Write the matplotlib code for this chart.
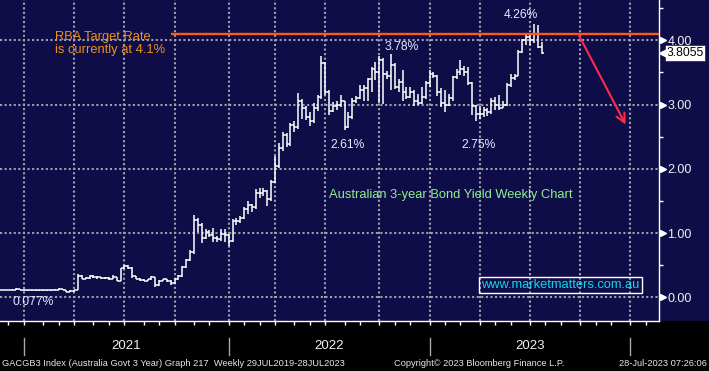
"""
Australian 3-year bond yield, weekly OHLC bars (Bloomberg-style dark chart).
"""

import matplotlib
matplotlib.use("Agg")
import matplotlib.pyplot as plt
import matplotlib.transforms as mtransforms
from matplotlib.patches import Rectangle
import numpy as np
import pandas as pd

plt.rcParams["font.family"] = ["Liberation Sans", "DejaVu Sans"]

# ---- data: weekly bars (Fridays) from 20 Nov 2020 to 28 Jul 2023 ----
FIRST_BAR = "2020-11-20"
AXIS_WEEKS = 171          # bars shown on the axis, incl. empty space to the right

OPEN = [
    0.12, 0.12, 0.12, 0.11, 0.12, 0.13, 0.11, 0.11, 0.11, 0.11,
    0.11, 0.11, 0.11, 0.11, 0.11, 0.12, 0.13, 0.12, 0.09, 0.10,
    0.11, 0.33, 0.29, 0.30, 0.33, 0.31, 0.31, 0.30, 0.30, 0.29,
    0.32, 0.26, 0.45, 0.49, 0.45, 0.33, 0.29, 0.27, 0.26, 0.28,
    0.31, 0.19, 0.26, 0.28, 0.26, 0.22, 0.28, 0.33, 0.47, 0.58,
    0.70, 1.21, 1.13, 0.92, 1.02, 0.97, 0.93, 0.90, 0.99, 0.97,
    0.87, 1.18, 1.19, 1.24, 1.38, 1.43, 1.40, 1.62, 1.63, 1.66,
    1.53, 1.79, 2.05, 2.32, 2.52, 2.38, 2.68, 2.65, 3.06, 2.95,
    2.80, 2.75, 2.95, 3.12, 3.64, 3.20, 2.90, 2.98, 3.00, 3.05,
    2.65, 2.80, 3.06, 3.10, 3.22, 3.25, 3.40, 3.56, 3.50, 3.70,
    3.47, 3.45, 3.62, 3.27, 3.35, 3.20, 3.12, 3.20, 3.06, 3.03,
    3.12, 3.33, 3.47, 3.45, 3.20, 3.02, 3.00, 3.10, 3.43, 3.50,
    3.55, 3.50, 3.33, 2.98, 2.85, 2.86, 2.92, 2.88, 3.05, 3.00,
    2.95, 3.00, 3.30, 3.42, 3.45, 3.82, 4.00, 4.05, 4.00, 4.10,
    3.89,
]
HIGH = [
    0.12, 0.12, 0.12, 0.13, 0.14, 0.13, 0.11, 0.11, 0.11, 0.11,
    0.11, 0.11, 0.11, 0.11, 0.13, 0.14, 0.13, 0.12, 0.11, 0.11,
    0.36, 0.34, 0.31, 0.35, 0.34, 0.33, 0.32, 0.32, 0.31, 0.34,
    0.32, 0.46, 0.51, 0.50, 0.47, 0.33, 0.30, 0.28, 0.29, 0.33,
    0.31, 0.27, 0.29, 0.28, 0.27, 0.30, 0.34, 0.49, 0.60, 0.74,
    1.28, 1.23, 1.15, 1.06, 1.04, 1.08, 0.96, 1.06, 1.06, 0.98,
    1.22, 1.23, 1.27, 1.41, 1.50, 1.45, 1.68, 1.70, 1.70, 1.67,
    1.82, 2.20, 2.40, 2.58, 2.55, 2.72, 2.74, 3.18, 3.08, 2.98,
    2.88, 3.02, 3.15, 3.75, 3.66, 3.22, 3.04, 3.06, 3.15, 3.06,
    2.88, 3.10, 3.14, 3.30, 3.30, 3.42, 3.58, 3.66, 3.76, 3.72,
    3.52, 3.78, 3.64, 3.40, 3.53, 3.27, 3.28, 3.22, 3.17, 3.27,
    3.36, 3.53, 3.50, 3.46, 3.25, 3.22, 3.17, 3.45, 3.56, 3.69,
    3.60, 3.58, 3.35, 2.99, 2.98, 2.96, 2.95, 3.10, 3.12, 3.15,
    3.06, 3.34, 3.48, 3.47, 3.85, 4.02, 4.08, 4.08, 4.26, 4.24,
    3.98,
]
LOW = [
    0.11, 0.11, 0.11, 0.11, 0.11, 0.11, 0.10, 0.10, 0.10, 0.10,
    0.10, 0.10, 0.10, 0.10, 0.11, 0.12, 0.11, 0.08, 0.077, 0.09,
    0.11, 0.28, 0.28, 0.29, 0.30, 0.29, 0.29, 0.28, 0.27, 0.28,
    0.25, 0.25, 0.44, 0.44, 0.30, 0.28, 0.26, 0.25, 0.25, 0.27,
    0.16, 0.18, 0.25, 0.24, 0.19, 0.21, 0.27, 0.32, 0.46, 0.57,
    0.68, 1.02, 0.84, 0.90, 0.94, 0.86, 0.86, 0.88, 0.86, 0.80,
    0.86, 1.12, 1.15, 1.22, 1.30, 1.33, 1.38, 1.55, 1.58, 1.42,
    1.50, 1.78, 2.02, 2.28, 2.34, 2.35, 2.58, 2.62, 2.78, 2.76,
    2.67, 2.72, 2.90, 3.08, 3.15, 2.83, 2.88, 2.92, 2.96, 2.61,
    2.63, 2.78, 3.02, 3.08, 3.06, 3.05, 3.19, 3.38, 3.02, 3.01,
    3.40, 3.22, 3.24, 3.19, 3.06, 3.08, 3.10, 2.97, 3.00, 3.01,
    3.08, 3.27, 3.42, 3.14, 2.96, 2.88, 2.98, 3.06, 3.40, 3.46,
    3.45, 3.30, 2.83, 2.75, 2.77, 2.80, 2.82, 2.85, 2.92, 2.92,
    2.94, 2.98, 3.28, 3.38, 3.44, 3.80, 3.93, 3.92, 3.95, 3.88,
    3.79,
]
CLOSE = [
    0.12, 0.12, 0.11, 0.12, 0.13, 0.11, 0.11, 0.11, 0.11, 0.11,
    0.11, 0.11, 0.11, 0.11, 0.12, 0.13, 0.12, 0.09, 0.10, 0.11,
    0.33, 0.29, 0.30, 0.33, 0.31, 0.31, 0.30, 0.30, 0.29, 0.32,
    0.26, 0.45, 0.49, 0.45, 0.33, 0.29, 0.27, 0.26, 0.28, 0.31,
    0.19, 0.26, 0.28, 0.26, 0.22, 0.28, 0.33, 0.47, 0.58, 0.70,
    1.21, 1.13, 0.92, 1.02, 0.97, 0.93, 0.90, 0.99, 0.97, 0.87,
    1.18, 1.19, 1.24, 1.38, 1.43, 1.40, 1.62, 1.63, 1.66, 1.53,
    1.79, 2.05, 2.32, 2.52, 2.38, 2.68, 2.65, 3.06, 2.95, 2.80,
    2.75, 2.95, 3.12, 3.64, 3.20, 2.90, 2.98, 3.00, 3.05, 2.65,
    2.80, 3.06, 3.10, 3.22, 3.25, 3.40, 3.56, 3.50, 3.70, 3.47,
    3.45, 3.62, 3.27, 3.35, 3.20, 3.12, 3.20, 3.06, 3.03, 3.12,
    3.33, 3.47, 3.45, 3.20, 3.02, 3.00, 3.10, 3.43, 3.50, 3.55,
    3.50, 3.33, 2.98, 2.85, 2.86, 2.92, 2.88, 3.05, 3.00, 2.95,
    3.00, 3.30, 3.42, 3.45, 3.82, 4.00, 4.05, 4.00, 4.10, 3.89,
    3.8055,
]

RBA_RATE = 4.1
Y_TICKS = [0.0, 1.0, 2.0, 3.0, 4.0]
YEAR_LABELS = ["2021", "2022", "2023"]

# callouts: (text, bar index, yield level)
CALLOUTS = [
    ("4.26%", 134.5, 4.39),
    ("3.78%", 103.7, 3.90),
    ("2.61%", 89.8, 2.37),
    ("2.75%", 123.6, 2.37),
    ("0.077%", 8.5, -0.07),
]

NAVY = "#0e0d48"
GRID = "#a0a0aa"

dates = pd.date_range(FIRST_BAR, periods=AXIS_WEEKS, freq="W-FRI")
idx = np.arange(len(CLOSE))
o, h, l, c = (np.array(a) for a in (OPEN, HIGH, LOW, CLOSE))

# month / quarter / year boundaries in bar units (Bloomberg spaces bars evenly)
months = dates.month.values
new_month = np.r_[False, months[1:] != months[:-1]]
month_pos = np.where(new_month)[0]
quarter_pos = [p for p in month_pos if months[p] in (1, 4, 7, 10)]
year_pos = [p for p in month_pos if months[p] == 1]

W, H = 709, 371
fig = plt.figure(figsize=(W / 100, H / 100), dpi=100, facecolor=NAVY)
fig.patches.append(Rectangle((0, 0), 1, 50 / H, transform=fig.transFigure,
                             color="black", zorder=-1))
ax = fig.add_axes([0, 50 / H, 659 / W, 321 / H])
ax.set_facecolor(NAVY)

# OHLC bars
ax.vlines(idx, l, h, color="white", lw=1.1, zorder=3)
ax.hlines(o, idx - 0.5, idx, color="white", lw=1.1, zorder=3)
ax.hlines(c, idx, idx + 0.5, color="white", lw=1.1, zorder=3)

ax.set_xlim(-0.2, 170.4)
ax.set_ylim(-0.369, 4.627)

for s in ("left", "top"):
    ax.spines[s].set_visible(False)
for s in ("right", "bottom"):
    ax.spines[s].set_color("white")
    ax.spines[s].set_linewidth(1.0)

# y axis on the right
ax.yaxis.tick_right()
ax.set_yticks(Y_TICKS)
ax.set_yticklabels([f"{v:.2f}" for v in Y_TICKS])
ax.set_yticks(np.arange(0.5, 4.6, 1.0), minor=True)
ax.tick_params(axis="y", which="major", length=0, pad=6, labelsize=9,
               labelcolor="#f2f2f2")
ax.tick_params(axis="y", which="minor", length=3, width=1, color="white",
               direction="out")
ytrans = mtransforms.blended_transform_factory(ax.transAxes, ax.transData)
ax.plot([1.0 + 4 / 659] * len(Y_TICKS), Y_TICKS, ls="none", marker=">",
        ms=4.5, color="white", transform=ytrans, clip_on=False, zorder=5)

# x axis: quarterly grid, monthly ticks, year separators
ax.set_xticks(quarter_pos)
ax.set_xticks(month_pos, minor=True)
ax.tick_params(axis="x", which="both", length=3, width=1, color="white",
               direction="out", labelbottom=False)
ax.grid(True, which="major", color=GRID, ls=(0, (1, 1.2)), lw=1.5)
ax.set_axisbelow(True)

xtrans = mtransforms.blended_transform_factory(ax.transData, ax.transAxes)
for p in year_pos:
    ax.plot([p, p], [-17 / 321, -34 / 321], color="#a8a8a8", lw=1,
            transform=xtrans, clip_on=False)
for lab, a, b in zip(YEAR_LABELS, year_pos[:-1], year_pos[1:]):
    ax.text((a + b) / 2, -25 / 321, lab, transform=xtrans, ha="center",
            va="center", fontsize=9.5, color="#f2f2f2")

# RBA rate line and arrow
ax.hlines(RBA_RATE, 44, 170.4, color="#ff5a10", lw=1.7, zorder=4)
ax.text(14, 4.15, "RBA Target Rate\nis currently at 4.1%", ha="left", va="top",
        fontsize=9.3, color="#f0901c", linespacing=1.15)
ax.annotate("", xy=(162.1, 2.65), xytext=(149.2, 4.13),
            arrowprops=dict(arrowstyle="->", color="#ff2a48", lw=1.5,
                            mutation_scale=16), zorder=4)

for txt, x, y in CALLOUTS:
    ax.text(x, y, txt, ha="center", va="center", fontsize=8.7, color="#e8e8ff")

ax.text(85.1, 1.59, "Australian 3-year Bond Yield Weekly Chart", ha="left",
        va="center", fontsize=9.3, color="#8ef08e")
ax.text(144.9, 0.19, "www.marketmatters.com.au", ha="center", va="center",
        fontsize=9.3, color="#10d8e8",
        bbox=dict(boxstyle="square,pad=0.15", fc="none", ec="white", lw=1))

# last price tag
ax.text(1.0 + 26 / 659, CLOSE[-1], f"{CLOSE[-1]:.4f}", transform=ytrans,
        ha="center", va="center", fontsize=8.8, color="black",
        bbox=dict(boxstyle="square,pad=0.15", fc="white", ec="#333333", lw=0.6),
        clip_on=False, zorder=6)
ax.plot([1.0 + 4 / 659], [CLOSE[-1]], marker="<", ms=6, color="white",
        transform=ytrans, clip_on=False, zorder=6)

# footer
ft = dict(fontsize=6.7, color="#e6e6e6", va="center")
fig.text(2 / W, 8 / H, "GACGB3 Index (Australia Govt 3 Year) Graph 217  Weekly "
         "29JUL2019-28JUL2023", ha="left", **ft)
fig.text(394 / W, 8 / H, "Copyright\u00a9 2023 Bloomberg Finance L.P.", ha="left", **ft)
fig.text(707 / W, 8 / H, "28-Jul-2023 07:26:06", ha="right", **ft)

fig.savefig("out.png", dpi=100, facecolor=NAVY)
plt.close(fig)
